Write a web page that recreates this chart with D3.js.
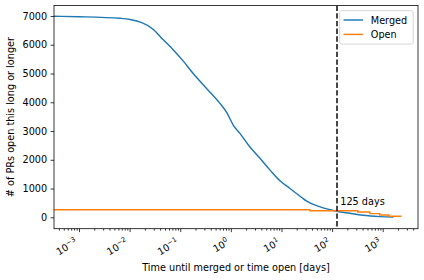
<!DOCTYPE html>
<html><head><meta charset="utf-8">
<script src="https://cdn.jsdelivr.net/npm/d3@7"></script>
<style>body{margin:0;background:#fff} svg{display:block} text{font-family:"DejaVu Sans",sans-serif;fill:#000}</style>
</head><body>
<svg id="c" width="424" height="280"></svg>
<script>
// ---- data ----
const mergedDays  = [0.00032, 0.001, 0.0065, 0.0102, 0.0295, 0.0457, 0.0724, 0.115, 0.182, 0.331, 0.603, 0.832, 1.12, 1.51, 2.34, 3.72, 5.89, 9.33, 14.5, 25.1, 30.9, 56.2, 112, 224, 407, 871, 1620];
const mergedCount = [6990, 6975, 6920, 6880, 6530, 6180, 5830, 5430, 4990, 4480, 3970, 3640, 3200, 2920, 2460, 2060, 1650, 1270, 1010, 690, 570, 370, 230, 140, 70, 24, 8];
const openDays  = [0.00032, 36.4, 323, 557, 875, 1325, 2340];
const openCount = [265, 226, 185, 129, 80, 38, 38];
const seriesNames = ["Merged", "Open"];
const xTickValues = [1e-3, 1e-2, 1e-1, 1, 10, 100, 1000];
const xTickExponents = ["\u22123", "\u22122", "\u22121", "0", "1", "2", "3"];
const yTickValues = [0, 1000, 2000, 3000, 4000, 5000, 6000, 7000];
const cutoffDays = 125;
const cutoffLabel = "125 days";
const xLabel = "Time until merged or time open [days]";
const yLabel = "# of PRs open this long or longer";

// ---- layout ----
const L = 54, R = 418, T = 5.5, B = 228.7;
const FS = 9.7;
const colors = ["#1f77b4", "#ff7f0e"];
const svg = d3.select("#c");

const x = d3.scaleLog().domain([Math.pow(10, -3.494), Math.pow(10, 3.697)]).range([L, R]);
const y = d3.scaleLinear().domain([-396, 7365]).range([B, T]);

svg.append("defs").append("clipPath").attr("id", "clip")
  .append("rect").attr("x", L).attr("y", T).attr("width", R - L).attr("height", B - T);

const plot = svg.append("g").attr("clip-path", "url(#clip)");

const mergedData = mergedDays.map((d, i) => [d, mergedCount[i]]);
const openData = openDays.map((d, i) => [d, openCount[i]]);

plot.append("path").datum(mergedData)
  .attr("fill", "none").attr("stroke", colors[0]).attr("stroke-width", 1.45)
  .attr("stroke-linejoin", "round")
  .attr("d", d3.line().x(d => x(d[0])).y(d => y(d[1])).curve(d3.curveMonotoneX));

plot.append("path").datum(openData)
  .attr("fill", "none").attr("stroke", colors[1]).attr("stroke-width", 1.45)
  .attr("d", d3.line().x(d => x(d[0])).y(d => y(d[1])).curve(d3.curveStepAfter));

// cutoff line
plot.append("line")
  .attr("x1", x(cutoffDays)).attr("x2", x(cutoffDays))
  .attr("y1", T).attr("y2", B)
  .attr("stroke", "#000").attr("stroke-width", 1.45)
  .attr("stroke-dasharray", "5.4,2.3");

svg.append("text").attr("x", x(cutoffDays) + 3.3).attr("y", 205)
  .attr("font-size", FS).text(cutoffLabel);

// ---- axes ----
const minorTicks = [];
for (let e = -4; e <= 3; e++) for (let m = 2; m <= 9; m++) {
  const v = m * Math.pow(10, e);
  if (v >= x.domain()[0] && v <= x.domain()[1]) minorTicks.push(v);
}
const xMinor = svg.append("g").attr("transform", `translate(0,${B})`)
  .call(d3.axisBottom(x).tickValues(minorTicks).tickSize(1.9).tickFormat(""));
const xMajor = svg.append("g").attr("transform", `translate(0,${B})`)
  .call(d3.axisBottom(x).tickValues(xTickValues).tickSize(3.4).tickFormat(""));
[xMinor, xMajor].forEach(g => {
  g.select(".domain").remove();
  g.selectAll(".tick line").attr("stroke", "#000").attr("stroke-width", 0.78);
});

// rotated tick labels (matplotlib: rotation 30, ha right, va top)
const ang = -30 * Math.PI / 180;
xTickValues.forEach((v, i) => {
  const g = svg.append("g");
  const t = g.append("text").attr("font-size", FS).attr("transform", "rotate(-30)");
  t.append("tspan").text("10");
  t.append("tspan").attr("font-size", FS * 0.7).attr("dy", -FS * 0.42).text(xTickExponents[i]);
  const bb = t.node().getBBox();
  const corners = [[bb.x, bb.y], [bb.x + bb.width, bb.y], [bb.x, bb.y + bb.height], [bb.x + bb.width, bb.y + bb.height]]
    .map(([px, py]) => [px * Math.cos(ang) - py * Math.sin(ang), px * Math.sin(ang) + py * Math.cos(ang)]);
  const maxX = d3.max(corners, c => c[0]);
  const minY = d3.min(corners, c => c[1]);
  g.attr("transform", `translate(${x(v) - maxX},${B + 3.4 + 3.4 - minY})`);
});

const yAxis = svg.append("g").attr("transform", `translate(${L},0)`)
  .call(d3.axisLeft(y).tickValues(yTickValues).tickSize(3.4).tickPadding(3.4).tickFormat(d3.format("d")));
yAxis.select(".domain").remove();
yAxis.selectAll(".tick line").attr("stroke", "#000").attr("stroke-width", 0.78);
yAxis.selectAll(".tick text").attr("font-size", FS).attr("font-family", "DejaVu Sans").attr("fill", "#000");

// frame
svg.append("rect").attr("x", L).attr("y", T).attr("width", R - L).attr("height", B - T)
  .attr("fill", "none").attr("stroke", "#000").attr("stroke-width", 0.78);

// labels
svg.append("text").attr("x", (L + R) / 2).attr("y", 270.5).attr("text-anchor", "middle")
  .attr("font-size", FS).text(xLabel);
svg.append("text").attr("transform", `translate(14,${(T + B) / 2}) rotate(-90)`)
  .attr("text-anchor", "middle").attr("font-size", FS).text(yLabel);

// legend
const lg = svg.append("g");
lg.append("rect").attr("x", 339.7).attr("y", 10.7).attr("width", 73.5).attr("height", 33.4).attr("rx", 2)
  .attr("fill", "#fff").attr("fill-opacity", 0.8).attr("stroke", "#ccc").attr("stroke-width", 0.8);
seriesNames.forEach((n, i) => {
  const yy = 20 + i * 14.4;
  lg.append("line").attr("x1", 343.5).attr("x2", 363).attr("y1", yy).attr("y2", yy)
    .attr("stroke", colors[i]).attr("stroke-width", 1.45);
  lg.append("text").attr("x", 370.8).attr("y", yy + 3.5).attr("font-size", FS).text(n);
});
</script>
</body></html>
